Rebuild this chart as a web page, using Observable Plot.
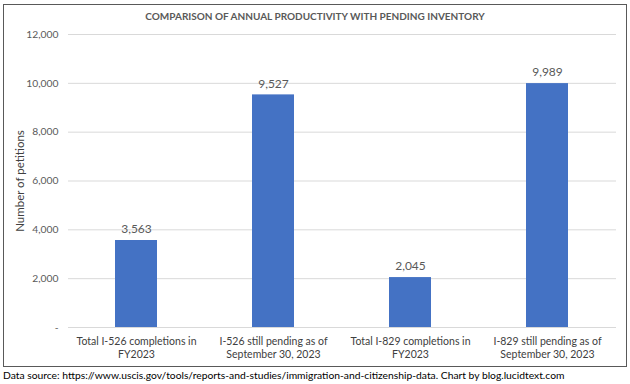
<!DOCTYPE html>
<html>
<head>
<meta charset="utf-8">
<script src="https://cdn.jsdelivr.net/npm/d3@7"></script>
<script src="https://cdn.jsdelivr.net/npm/@observablehq/plot@0.6"></script>
<style>
  html, body { margin: 0; padding: 0; background: #fff; }
  body { width: 630px; height: 384px; position: relative; overflow: hidden; font-family: Lato, sans-serif; }
  #chart { position: absolute; left: 0; top: 0; }
  #frame { position: absolute; left: 3px; top: 4px; width: 622px; height: 361px; border: 1px solid #595959; pointer-events: none; }
  #title { position: absolute; left: 0; width: 630px; top: 10px; text-align: center; font-weight: bold; font-size: 10px; color: #595959; }
  #caption { position: absolute; left: 3px; top: 369px; font-size: 10.3px; color: #000; white-space: nowrap; }
</style>
</head>
<body>
<div id="chart"></div>
<div id="frame"></div>
<div id="title">COMPARISON OF ANNUAL PRODUCTIVITY WITH PENDING INVENTORY</div>
<div id="caption">Data source: https://www.uscis.gov/tools/reports-and-studies/immigration-and-citizenship-data. Chart by blog.lucidtext.com</div>
<script>
const categories = [
  "Total I-526 completions in\nFY2023",
  "I-526 still pending as of\nSeptember 30, 2023",
  "Total I-829 completions in\nFY2023",
  "I-829 still pending as of\nSeptember 30, 2023"
];
const values = [3563, 9527, 2045, 9989];
const yTicks = [0, 2000, 4000, 6000, 8000, 10000, 12000];
const yLabel = "Number of petitions";

const data = categories.map((c, i) => ({category: c, value: values[i]}));
const fmt = d3.format(",");

const chart = Plot.plot({
  width: 630,
  height: 366,
  marginLeft: 68,
  marginRight: 14,
  marginTop: 34,
  marginBottom: 39,
  style: {fontFamily: "Lato, sans-serif", background: "transparent"},
  x: {domain: categories, paddingInner: 0.69, paddingOuter: 0.345, label: null},
  y: {domain: [0, 12000], label: null},
  marks: [
    Plot.gridY(yTicks, {stroke: "#d9d9d9", strokeOpacity: 1, strokeWidth: 1}),
    Plot.barY(data, {x: "category", y: "value", fill: "#4472C4"}),
    Plot.text(data, {x: "category", y: "value", text: d => fmt(d.value), dy: -11, fontSize: 12, fill: "#595959"}),
    Plot.axisX({tickSize: 0, tickPadding: 8, fontSize: 10.5, color: "#404040", lineHeight: 1.25}),
    Plot.axisY(yTicks, {tickSize: 0, tickPadding: 10, fontSize: 10.3, color: "#595959", tickFormat: d => d === 0 ? "-" : fmt(d)}),
    Plot.text([yLabel], {frameAnchor: "left", textAnchor: "middle", rotate: -90, dx: -48, fontSize: 11.5, fill: "#404040", text: d => d})
  ]
});
document.getElementById("chart").appendChild(chart);
</script>
</body>
</html>
